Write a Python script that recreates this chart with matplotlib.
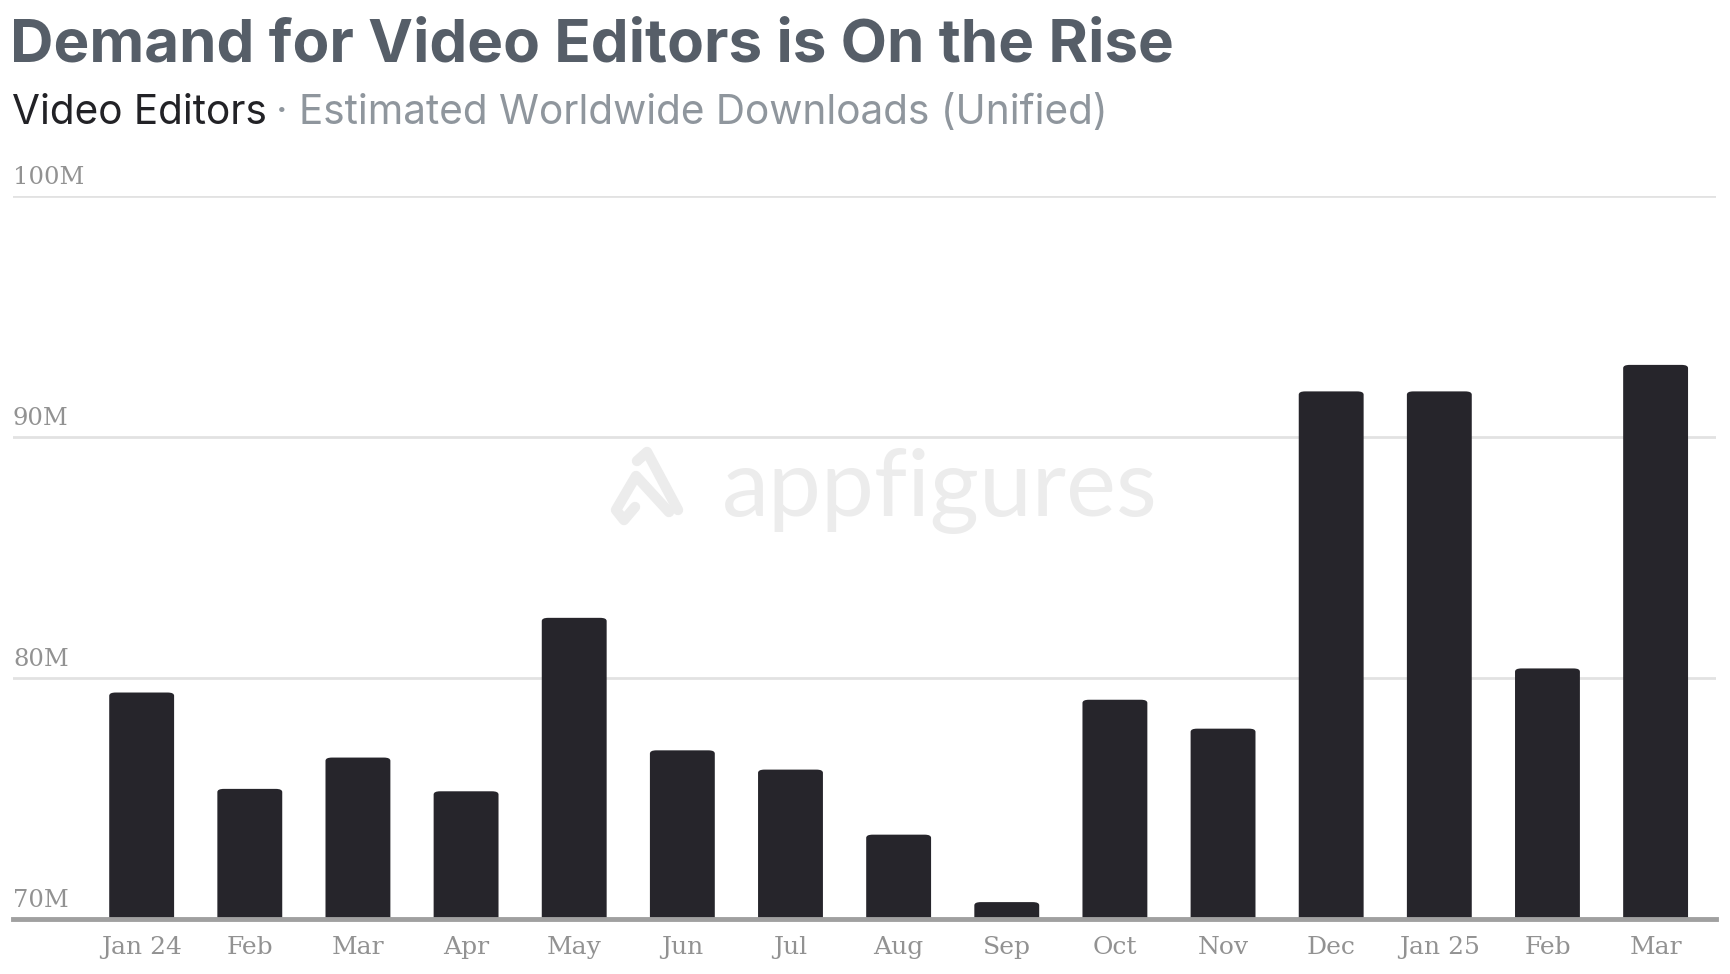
import matplotlib.pyplot as plt
import matplotlib.transforms as mtransforms
from matplotlib.patches import FancyBboxPatch
from matplotlib.lines import Line2D
import numpy as np

# downloads in millions
months = ['Jan 24', 'Feb', 'Mar', 'Apr', 'May', 'Jun', 'Jul', 'Aug',
          'Sep', 'Oct', 'Nov', 'Dec', 'Jan 25', 'Feb', 'Mar']
downloads = [79.4, 75.4, 76.7, 75.3, 82.5, 77.0, 76.2, 73.5,
             70.7, 79.1, 77.9, 91.9, 91.9, 80.4, 93.0]
y_ticks = [70, 80, 90, 100]
y_labels = ['70M', '80M', '90M', '100M']

bar_color = '#26252b'
grid_color = '#e2e2e2'
tick_color = '#929292'
W, H = 1730, 974

fig = plt.figure(figsize=(W / 100, H / 100), dpi=100)
ax = fig.add_axes([0.0075, 0.0565, 0.9845, 0.742])
ax.patch.set_visible(False)

x = np.arange(len(months))
bar_w = 0.6
base = y_ticks[0]
for xi, v in zip(x, downloads):
    # bars with slightly rounded corners, bottom hidden under the baseline
    patch = FancyBboxPatch((xi - bar_w / 2, base - 1), bar_w, v - base + 1,
                           boxstyle='round,pad=0,rounding_size=0.06',
                           mutation_aspect=2.2,
                           facecolor=bar_color, edgecolor='none', zorder=3)
    ax.add_patch(patch)

ax.set_xlim(-1.19, len(months) - 0.44)
ax.set_ylim(y_ticks[0], y_ticks[-1])

for t in y_ticks[1:]:
    ax.axhline(t, color=grid_color, lw=2, zorder=1)
ax.axhline(y_ticks[0], color='#a0a0a0', lw=3.5, zorder=4, clip_on=False)

trans = mtransforms.blended_transform_factory(ax.transAxes, ax.transData)
offset = mtransforms.ScaledTranslation(0, 5 / 72, fig.dpi_scale_trans)
for t, lab in zip(y_ticks, y_labels):
    ax.text(0.0, t, lab, transform=trans + offset, ha='left', va='bottom',
            fontsize=17.5, family='DejaVu Serif', color=tick_color, zorder=5)

ax.set_xticks(x)
ax.set_xticklabels(months, family='DejaVu Serif', fontsize=18, color=tick_color)
ax.tick_params(axis='x', length=0, pad=12)
ax.set_yticks([])
for s in ax.spines.values():
    s.set_visible(False)

# watermark: logo strokes (pixel coords) + word
wm = '#ececec'
logo = [[(637, 461), (647, 452), (678, 510)],
        [(669, 512), (636, 476), (616, 510), (624, 520), (635, 507)]]
for stroke in logo:
    xs = [p[0] / W for p in stroke]
    ys = [1 - p[1] / H for p in stroke]
    fig.add_artist(Line2D(xs, ys, transform=fig.transFigure, color=wm, lw=7.5,
                          solid_capstyle='round', solid_joinstyle='round', zorder=0))
fig.text(0.543, 0.496, 'appfigures', ha='center', va='center', fontsize=68,
         family='Lato', color=wm, zorder=0)

fig.text(0.006, 0.953, 'Demand for Video Editors is On the Rise', ha='left', va='center',
         fontsize=43.3, fontweight='bold', family='Inter', color='#565e68')
t1 = fig.text(0.007, 0.884, 'Video Editors', ha='left', va='center',
              fontsize=29.2, family='Inter', color='#222226')
fig.canvas.draw()
bb = t1.get_window_extent()
fig.text(bb.x1 / W + 0.005, 0.884, '· Estimated Worldwide Downloads (Unified)',
         ha='left', va='center', fontsize=29.2, family='Inter', color='#8f969d')

fig.savefig('out.png', dpi=100, facecolor='white')
